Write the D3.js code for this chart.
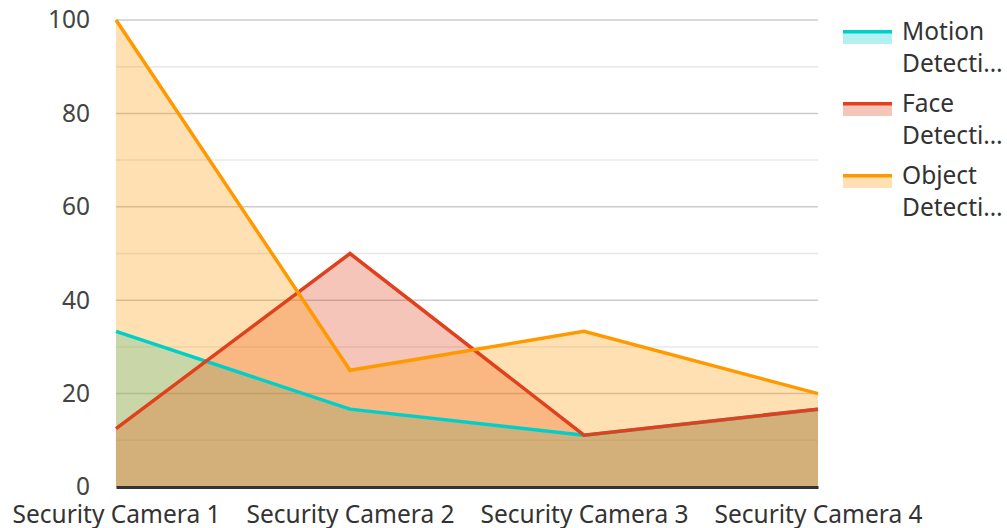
<!DOCTYPE html>
<html>
<head>
<meta charset="utf-8">
<script src="https://cdn.jsdelivr.net/npm/d3@7"></script>
<style>
  body { margin: 0; background: #fff; }
  svg { display: block; font-family: "Noto Sans", "Open Sans", sans-serif; }
</style>
</head>
<body>
<div id="chart"></div>
<script>
    "use strict";

    // Categories along the x axis.
    var categories = ["Security Camera 1", "Security Camera 2", "Security Camera 3", "Security Camera 4"];
    // Series values, one per category.
    var motion = [33.33, 16.67, 11.11, 16.67];
    var face = [12.5, 50, 11.11, 16.67];
    var object = [100, 25, 33.33, 20];
    var seriesNames = ["Motion Detection", "Face Detection", "Object Detection"];
    var seriesColors = ["#00cfc9", "#e0401c", "#ff9900"];
    var yTicks = [0, 20, 40, 60, 80, 100];

    var series = [motion, face, object].map(function (v, i) {
        return {name: seriesNames[i], color: seriesColors[i], values: v};
    });

    var width = 1007, height = 528;
    var margin = {top: 20, left: 116, bottom: 41, right: 189};
    var fontSize = 24.5;

    var svg = d3.select("#chart").append("svg")
        .attr("width", width)
        .attr("height", height);

    var x = d3.scalePoint().domain(categories).range([margin.left, width - margin.right]);
    var y = d3.scaleLinear().domain([0, 100]).range([height - margin.bottom, margin.top]);

    // Grid lines: major every 20, minor in between.
    var grid = svg.append("g").attr("class", "grid");
    grid.selectAll("line")
        .data(d3.range(10, 101, 10))
        .enter().append("line")
        .attr("x1", margin.left)
        .attr("x2", width - margin.right)
        .attr("y1", function (d) { return y(d); })
        .attr("y2", function (d) { return y(d); })
        .attr("stroke", function (d) { return d % 20 === 0 ? "#cccccc" : "#e8e8e8"; })
        .attr("stroke-width", 1.5);

    // Areas under each series.
    var area = d3.area()
        .x(function (d, i) { return x(categories[i]); })
        .y0(y(0))
        .y1(function (d) { return y(d); });

    var line = d3.line()
        .x(function (d, i) { return x(categories[i]); })
        .y(function (d) { return y(d); });

    svg.append("g").attr("class", "areas")
        .selectAll("path")
        .data(series)
        .enter().append("path")
        .attr("d", function (d) { return area(d.values); })
        .attr("fill", function (d) { return d.color; })
        .attr("fill-opacity", 0.3);

    svg.append("g").attr("class", "lines")
        .selectAll("path")
        .data(series)
        .enter().append("path")
        .attr("d", function (d) { return line(d.values); })
        .attr("fill", "none")
        .attr("stroke", function (d) { return d.color; })
        .attr("stroke-width", 3.5)
        .attr("stroke-linejoin", "miter");

    // Y axis labels.
    var yAxis = svg.append("g")
        .attr("transform", "translate(" + (margin.left - 26) + ",0)")
        .call(d3.axisLeft(y).tickValues(yTicks).tickSize(0).tickPadding(0));
    yAxis.select(".domain").remove();
    yAxis.selectAll("text")
        .attr("font-size", fontSize)
        .attr("fill", "#444")
        .attr("font-family", "Noto Sans, sans-serif");

    // X axis with baseline.
    var xAxis = svg.append("g")
        .attr("transform", "translate(0," + y(0) + ")")
        .call(d3.axisBottom(x).tickSize(0).tickPadding(19));
    xAxis.select(".domain")
        .attr("stroke", "#333")
        .attr("stroke-width", 3);
    xAxis.selectAll("text")
        .attr("font-size", fontSize)
        .attr("fill", "#333")
        .attr("font-family", "Noto Sans, sans-serif");

    // Legend.
    var legend = svg.append("g")
        .attr("transform", "translate(843,30)")
        .selectAll("g")
        .data(series)
        .enter().append("g")
        .attr("transform", function (d, i) { return "translate(0," + i * 72 + ")"; });

    legend.append("rect")
        .attr("x", 0).attr("y", 0)
        .attr("width", 49).attr("height", 14)
        .attr("fill", function (d) { return d.color; })
        .attr("fill-opacity", 0.3);
    legend.append("rect")
        .attr("x", 0).attr("y", 0)
        .attr("width", 49).attr("height", 3.5)
        .attr("fill", function (d) { return d.color; });

    legend.append("text")
        .attr("x", 59).attr("y", 10)
        .attr("font-size", fontSize)
        .attr("fill", "#333")
        .text(function (d) { return d.name.split(" ")[0]; });
    legend.append("text")
        .attr("x", 59).attr("y", 42)
        .attr("font-size", fontSize)
        .attr("fill", "#333")
        .text("Detecti\u2026");
</script>
</body>
</html>
